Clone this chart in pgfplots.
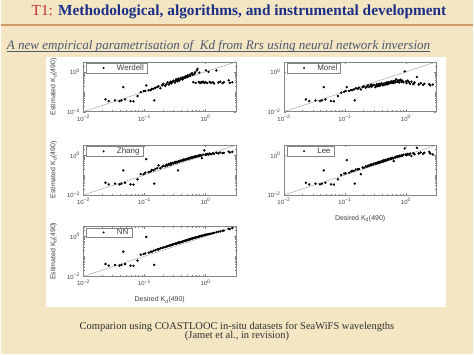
\documentclass[border=0pt]{standalone}
\usepackage{fontspec}
\setmainfont{Liberation Serif}
\setsansfont{Liberation Sans}
\usepackage{pgfplots}
\pgfplotsset{compat=1.18}
\usepackage{pgfplotstable}

\definecolor{slidebg}{HTML}{F4E5C3}
\definecolor{titleblue}{HTML}{1C2F86}
\definecolor{titlered}{HTML}{C4302B}
\definecolor{rulecol}{HTML}{D39A66}
\definecolor{subcol}{HTML}{4E5873}
\definecolor{axcol}{HTML}{858585}
\definecolor{txtcol}{HTML}{404040}
\definecolor{capcol}{HTML}{303030}

% desired Kd(490) and estimates: Werdell, Morel, Zhang, Lee, NN
\pgfplotstableread{
x w m z l n
0.023 0.041 0.041 0.041 0.041 0.041
0.026 0.034 0.034 0.034 0.034 0.034
0.033 0.037 0.037 0.037 0.037 0.037
0.039 0.034 0.034 0.034 0.034 0.034
0.042 0.037 0.037 0.037 0.037 0.037
0.048 0.041 0.041 0.041 0.041 0.041
0.059 0.034 0.034 0.034 0.034 0.034
0.066 0.033 0.033 0.033 0.033 0.033
0.045 0.17 0.17 0.17 0.17 0.17
0.077 0.061 0.061 0.061 0.061 0.061
0.145 0.037 0.037 0.037 0.037 0.037
0.087 0.095 0.09 0.11 0.1 0.12
0.097 0.108 0.1 0.11 0.12 0.13
0.103 0.11 0.11 0.13 0.12 0.14
0.107 0.21 0.17 0.63 0.56 0.93
0.117 0.118 0.11 0.14 0.13 0.15
0.126 0.12 0.12 0.15 0.15 0.17
0.132 0.14 0.12 0.18 0.16 0.17
0.141 0.14 0.13 0.17 0.16 0.19
0.151 0.16 0.15 0.2 0.19 0.2
0.162 0.17 0.14 0.22 0.19 0.22
0.170 0.19 0.16 0.3 0.2 0.22
0.182 0.15 0.13 0.22 0.11 0.25
0.195 0.21 0.17 0.26 0.24 0.26
0.204 0.25 0.19 0.29 0.23 0.28
0.219 0.2 0.16 0.27 0.27 0.29
0.229 0.24 0.18 0.33 0.26 0.31
0.240 0.3 0.21 0.3 0.3 0.32
0.251 0.23 0.17 0.36 0.29 0.34
0.263 0.28 0.2 0.33 0.33 0.35
0.269 0.32 0.23 0.39 0.31 0.37
0.275 0.26 0.18 0.34 0.34 0.36
0.288 0.31 0.21 0.41 0.33 0.39
0.30 0.36 0.22 0.38 0.38 0.4
0.316 0.29 0.17 0.45 0.36 0.42
0.324 0.37 0.2 0.4 0.4 0.44
0.331 0.42 0.24 0.46 0.38 0.43
0.347 0.33 0.19 0.43 0.43 0.47
0.355 0.4 0.21 0.17 0.4 0.46
0.363 0.46 0.25 0.5 0.46 0.49
0.372 0.36 0.2 0.47 0.42 0.48
0.389 0.43 0.23 0.53 0.48 0.52
0.398 0.5 0.27 0.5 0.45 0.51
0.417 0.41 0.21 0.56 0.52 0.55
0.427 0.52 0.25 0.53 0.48 0.55
0.437 0.47 0.22 0.6 0.55 0.58
0.457 0.55 0.27 0.57 0.52 0.59
0.468 0.5 0.23 0.62 0.58 0.62
0.479 0.6 0.29 0.6 0.54 0.61
0.50 0.54 0.24 0.66 0.62 0.66
0.513 0.66 0.3 0.62 0.57 0.65
0.525 0.6 0.26 0.7 0.65 0.69
0.55 0.7 0.31 0.68 0.62 0.7
0.562 0.62 0.27 0.74 0.7 0.74
0.575 0.75 0.33 0.7 0.64 0.73
0.60 0.85 0.28 0.78 0.73 0.78
0.617 0.7 0.34 0.74 0.68 0.78
0.63 0.3 0.27 0.82 0.5 0.82
0.661 0.8 0.35 0.79 0.78 0.84
0.676 0.95 0.3 0.86 0.75 0.87
0.692 0.28 0.42 0.82 0.84 0.86
0.724 1.17 0.32 0.9 0.8 0.93
0.741 1.4 0.37 0.86 0.88 0.92
0.776 0.31 0.29 0.95 0.85 0.98
0.79 0.9 0.35 0.9 0.93 0.97
0.813 0.27 0.4 1.0 0.88 1.02
0.851 0.3 0.31 0.95 0.98 1.04
0.871 0.29 0.36 0.7 0.92 1.08
0.91 0.32 0.3 1.05 1.05 1.1
0.955 0.28 1.05 1.7 2.15 1.16
1.0 0.3 0.33 1.08 1.1 1.2
1.02 1.17 0.27 1.0 0.98 1.18
1.07 0.27 0.36 1.15 1.15 1.26
1.12 1.0 0.3 1.05 1.05 1.28
1.17 0.31 0.25 1.2 1.2 1.33
1.23 0.28 0.32 1.1 0.9 1.36
1.32 0.3 0.24 1.22 1.25 1.45
1.38 0.26 0.29 1.15 1.1 1.48
1.51 1.17 0.55 1.3 2.3 1.6
1.62 0.29 0.23 1.2 1.2 1.7
1.74 0.32 0.27 1.35 1.35 1.78
1.90 0.27 0.22 1.25 1.15 1.9
2.0 0.3 0.25 1.3 1.3 1.95
2.4 0.37 0.24 1.5 1.45 2.4
2.5 0.28 0.21 1.35 1.2 2.3
2.75 0.3 0.23 1.45 1.07 2.6
}\kdtable

\pgfplotsset{
  kdaxis/.style={
    scale only axis,
    width=153pt, height=50pt, anchor=south west,
    xmin=0.01, xmax=3.16, ymin=0.01, ymax=3.16,
    xtick={0.01,0.1,1}, ytick={0.01,1},
    minor ytick={0.02,0.03,0.04,0.05,0.06,0.07,0.08,0.09,0.1,0.2,0.3,0.4,0.5,0.6,0.7,0.8,0.9,2,3},
    xticklabels={10\textsuperscript{−2},10\textsuperscript{−1},10\textsuperscript{0}},
    yticklabels={10\textsuperscript{−2},10\textsuperscript{0}},
    axis line style={axcol, line width=0.5pt},
    every tick/.style={axcol, line width=0.3pt},
    major tick length=2.2pt, minor tick length=1.2pt,
    tick label style={font=\sffamily\fontsize{6}{7}\selectfont, text=txtcol},
    label style={font=\sffamily\fontsize{7}{8}\selectfont, text=txtcol},
    ylabel style={at={(axis description cs:-0.195,0.5)}, anchor=center},
    xlabel style={at={(axis description cs:0.5,-0.48)}, anchor=center},
    legend style={at={(axis description cs:0.02,0.974)}, anchor=north west,
      draw=axcol, line width=0.4pt, fill=white,
      font=\sffamily\fontsize{8}{9}\selectfont, text=txtcol,
      inner xsep=1pt, inner ysep=0.3pt,
      nodes={inner xsep=2.3pt, inner ysep=0.8pt}},
    legend cell align=left,
    legend image code/.code={\path[draw=none, fill=none] (0pt,-1pt) rectangle (27pt,1pt); \fill[black, draw=none] (16pt,0pt) circle (1.1pt);},
  },
}

\begin{document}
\begin{tikzpicture}[x=1pt,y=1pt]
\fill[slidebg] (0,0) rectangle (474,355);
\fill[white] (45,47) rectangle (447,298);
\draw[rulecol, line width=1.3pt] (0,330) -- (474,330);
\node[anchor=base, inner sep=0pt, font=\fontsize{15.4}{18}\selectfont] at (239,339)
  {\textcolor{titlered}{T1:} \textcolor{titleblue}{\bfseries Methodological, algorithms, and instrumental development}};
\node[anchor=base west, inner sep=0pt, font=\itshape\fontsize{13.1}{15}\selectfont, text=subcol] (sub) at (6,305)
  {A new empirical parametrisation of \ Kd from Rrs using neural network inversion};
\draw[subcol, line width=0.5pt] ([yshift=-1.8pt]sub.base west) -- ([yshift=-1.8pt]sub.base east);
\node[anchor=base, inner sep=0pt, font=\fontsize{10.5}{12}\selectfont, text=capcol] at (237,25)
  {Comparion using COASTLOOC in-situ datasets for SeaWiFS wavelengths};
\node[anchor=base, inner sep=0pt, font=\fontsize{10.5}{12}\selectfont, text=capcol] at (237,15.5)
  {(Jamet et al., in revision)};

\begin{loglogaxis}[kdaxis, at={(83pt,243pt)}, ylabel={Estimated K\textsubscript{d}(490)}]
\addplot[gray!80, line width=0.4pt, forget plot] coordinates {(0.01,0.01) (3.16,3.16)};
\addplot[only marks, mark=*, mark size=1pt, black] table[x=x, y=w] {\kdtable};
\addlegendentry{Werdell}
\end{loglogaxis}

\begin{loglogaxis}[kdaxis, at={(284pt,243pt)}]
\addplot[gray!80, line width=0.4pt, forget plot] coordinates {(0.01,0.01) (3.16,3.16)};
\addplot[only marks, mark=*, mark size=1pt, black] table[x=x, y=m] {\kdtable};
\addlegendentry{Morel}
\end{loglogaxis}

\begin{loglogaxis}[kdaxis, at={(83pt,159.5pt)}, ylabel={Estimated K\textsubscript{d}(490)}]
\addplot[gray!80, line width=0.4pt, forget plot] coordinates {(0.01,0.01) (3.16,3.16)};
\addplot[only marks, mark=*, mark size=1pt, black] table[x=x, y=z] {\kdtable};
\addlegendentry{Zhang}
\end{loglogaxis}

\begin{loglogaxis}[kdaxis, at={(284pt,159.5pt)}, xlabel={Desired K\textsubscript{d}(490)}]
\addplot[gray!80, line width=0.4pt, forget plot] coordinates {(0.01,0.01) (3.16,3.16)};
\addplot[only marks, mark=*, mark size=1pt, black] table[x=x, y=l] {\kdtable};
\addlegendentry{Lee}
\end{loglogaxis}

\begin{loglogaxis}[kdaxis, at={(83pt,78pt)}, ylabel={Estimated K\textsubscript{d}(490)}, xlabel={Desired K\textsubscript{d}(490)}]
\addplot[gray!80, line width=0.4pt, forget plot] coordinates {(0.01,0.01) (3.16,3.16)};
\addplot[only marks, mark=*, mark size=1pt, black] table[x=x, y=n] {\kdtable};
\addlegendentry{NN}
\end{loglogaxis}
\end{tikzpicture}
\end{document}
